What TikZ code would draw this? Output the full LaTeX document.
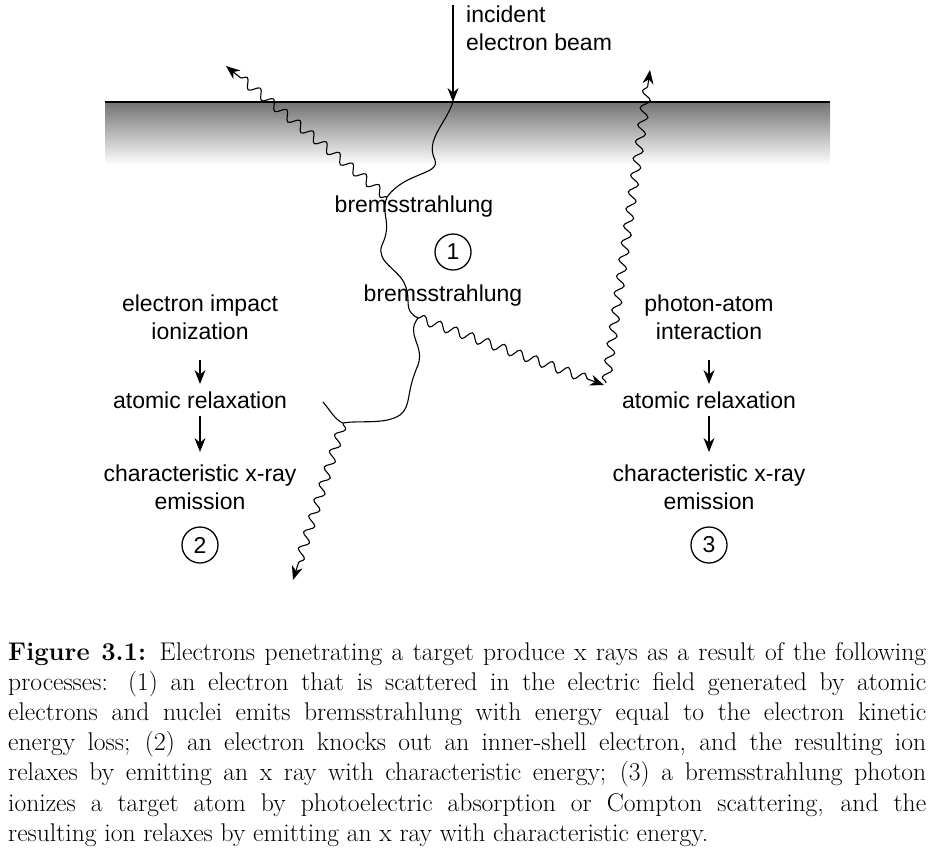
\documentclass[tikz,border=0pt]{standalone}
\usepackage{fontspec}
\newfontfamily\sff{Liberation Sans}
\usetikzlibrary{decorations.pathmorphing,arrows.meta}
\begin{document}
\begin{tikzpicture}[x=1pt,y=-1pt,
  lab/.style={font=\sff\fontsize{23}{28}\selectfont,inner sep=0pt,align=center},
  num/.style={circle,draw,line width=1.3pt,minimum size=36pt,inner sep=0pt,font=\sff\fontsize{23}{28}\selectfont},
  arr/.style={line width=1.3pt,-{Stealth[length=14pt,width=11pt]}},
  wave/.style={line width=1.1pt,decorate,decoration={snake,segment length=17pt,amplitude=4.5pt,post length=10pt}},
  wavea/.style={wave,-{Stealth[length=14pt,width=11pt]}},
  el/.style={line width=1.1pt}]
\useasboundingbox (0,0) rectangle (934,852);
\shade[top color=black!55,bottom color=white] (105,102) rectangle (830,165);
\draw[line width=1.7pt] (105,102) -- (830,102);
\coordinate (top) at (453,5);
\coordinate (hit) at (453,102);
\draw[arr] (top) -- (hit);
\node[lab,anchor=north west,align=left] (inc) at (466,6) {incident\\electron beam};
% electron path
\coordinate (b1) at (387,197);
\coordinate (b2) at (418,318);
\coordinate (br) at (343,423);
\draw[el] (hit) .. controls (445,125) and (425,140) .. (435,160)
  .. controls (440,175) and (405,172) .. (b1)
  .. controls (380,215) and (393,222) .. (382,245)
  .. controls (375,262) and (400,270) .. (405,285)
  .. controls (412,300) and (402,310) .. (b2)
  .. controls (405,335) and (425,345) .. (418,365)
  .. controls (405,395) and (412,405) .. (400,415)
  .. controls (385,425) and (360,420) .. (br)
  .. controls (335,420) and (330,410) .. (323,402);
% photons
\coordinate (p1) at (226,66);
\coordinate (p2) at (604,385);
\coordinate (p3) at (650,70);
\draw[wavea] (b1) -- (p1);
\draw[wavea] (b2) -- (p2);
\draw[wavea] (606,383) -- (p3);
\coordinate (x1) at (293,580);
\draw[wavea] (br) -- (x1);
\node[lab] (bs1) at (414,207) {bremsstrahlung};
\node[lab] (bs2) at (443,296) {bremsstrahlung};
\node[num] (n1) at (453,252) {1};
% left column
\node[lab] (l1) at (200,317) {electron impact\\ionization};
\node[lab] (l2) at (200,400) {atomic relaxation};
\node[lab] (l3) at (200,487) {characteristic x-ray\\emission};
\node[num] (n2) at (200,545) {2};
\draw[arr] (200,360) -- (200,384);
\draw[arr] (200,416) -- (200,452);
% right column
\node[lab] (r1) at (709,317) {photon-atom\\interaction};
\node[lab] (r2) at (709,400) {atomic relaxation};
\node[lab] (r3) at (709,487) {characteristic x-ray\\emission};
\node[num] (n3) at (709,545) {3};
\draw[arr] (709,360) -- (709,384);
\draw[arr] (709,416) -- (709,452);
% caption
\node[anchor=north west,text width=918pt,inner sep=0pt,align=justify,font=\fontsize{25.6}{30.2}\selectfont] (cap) at (8,642)
{\hyphenpenalty=10000\exhyphenpenalty=10000\textbf{Figure 3.1:} Electrons penetrating a target produce x rays as a result of the following\linebreak processes: (1) an electron that is scattered in the electric field generated by atomic\linebreak electrons and nuclei emits bremsstrahlung with energy equal to the electron kinetic\linebreak energy loss; (2) an electron knocks out an inner-shell electron, and the resulting ion\linebreak relaxes by emitting an x ray with characteristic energy; (3) a bremsstrahlung photon\linebreak ionizes a target atom by photoelectric absorption or Compton scattering, and the\linebreak resulting ion relaxes by emitting an x ray with characteristic energy.};
\end{tikzpicture}
\end{document}
